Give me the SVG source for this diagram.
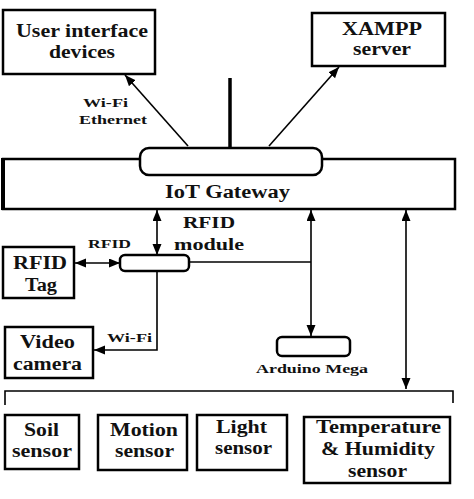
<svg xmlns="http://www.w3.org/2000/svg" width="474" height="499" viewBox="0 0 474 499">
<defs>
<style>
.box{fill:#fff;stroke:#000;stroke-width:2.5}
.rr{fill:#fff;stroke:#000;stroke-width:2.5}
.ln{fill:none;stroke:#000;stroke-width:1.6}
.t{font-family:"Liberation Serif","Times New Roman",serif;font-weight:bold;fill:#111;text-anchor:start}
.b{font-size:18px}
.s{font-size:13px}
.m{font-size:16px}
</style>
<marker id="ah" markerUnits="userSpaceOnUse" markerWidth="12" markerHeight="10" refX="11" refY="4.5" orient="auto-start-reverse">
<path d="M0,0 L11,4.5 L0,9 z" fill="#000"/>
</marker>
</defs>
<rect width="474" height="499" fill="#fff"/>

<g id="connectors">
<line class="ln" x1="188" y1="146" x2="125" y2="75" marker-end="url(#ah)"/>
<line class="ln" x1="269" y1="146" x2="339" y2="67" marker-end="url(#ah)"/>
<line x1="230" y1="78" x2="230" y2="149" stroke="#000" stroke-width="3.5"/>
<line class="ln" x1="157" y1="210" x2="157" y2="255" marker-start="url(#ah)" marker-end="url(#ah)"/>
<line class="ln" x1="75" y1="263" x2="120" y2="263" marker-start="url(#ah)" marker-end="url(#ah)"/>
<polyline class="ln" points="157,271 157,350 94,350" marker-end="url(#ah)"/>
<line class="ln" x1="189" y1="262" x2="311" y2="262"/>
<line class="ln" x1="311" y1="210" x2="311" y2="336" marker-start="url(#ah)" marker-end="url(#ah)"/>
<line class="ln" x1="406" y1="210" x2="406" y2="389" marker-start="url(#ah)" marker-end="url(#ah)"/>
<polyline class="ln" points="5,405 5,391 453,391 453,403" stroke-width="2"/>
</g>

<g id="user-interface">
<rect class="box" x="3" y="10" width="152" height="64"/>
<text class="t b" x="16" y="37" textLength="132" lengthAdjust="spacingAndGlyphs">User interface</text>
<text class="t b" x="49" y="58" textLength="66" lengthAdjust="spacingAndGlyphs">devices</text>
</g>

<g id="xampp">
<rect class="box" x="312" y="13" width="133" height="53"/>
<text class="t b" x="342" y="35" textLength="80" lengthAdjust="spacingAndGlyphs">XAMPP</text>
<text class="t b" x="353" y="55" textLength="58" lengthAdjust="spacingAndGlyphs">server</text>
</g>

<g id="label-wifi-ethernet">
<text class="t s" x="83" y="107" textLength="45" lengthAdjust="spacingAndGlyphs">Wi-Fi</text>
<text class="t s" x="79" y="124" textLength="68" lengthAdjust="spacingAndGlyphs">Ethernet</text>
</g>

<g id="iot-gateway">
<rect class="box" x="3" y="159" width="452" height="50"/>
<line x1="3" y1="158" x2="3" y2="210" stroke="#000" stroke-width="4"/>
<rect class="rr" x="140" y="148" width="182" height="27" rx="9"/>
<text class="t b" x="165" y="198" textLength="125" lengthAdjust="spacingAndGlyphs">IoT Gateway</text>
</g>

<g id="rfid-module">
<rect class="rr" x="120" y="255" width="69" height="16" rx="5"/>
<text class="t m" x="183" y="228" textLength="52" lengthAdjust="spacingAndGlyphs">RFID</text>
<text class="t m" x="174" y="250" textLength="70" lengthAdjust="spacingAndGlyphs">module</text>
</g>

<g id="label-rfid">
<text class="t s" x="88" y="248" textLength="43" lengthAdjust="spacingAndGlyphs">RFID</text>
</g>

<g id="rfid-tag">
<rect class="box" x="3" y="247" width="71" height="51"/>
<text class="t b" x="13" y="269" textLength="54" lengthAdjust="spacingAndGlyphs">RFID</text>
<text class="t b" x="25" y="291" textLength="32" lengthAdjust="spacingAndGlyphs">Tag</text>
</g>

<g id="label-wifi">
<text class="t s" x="107" y="342" textLength="45" lengthAdjust="spacingAndGlyphs">Wi-Fi</text>
</g>

<g id="video-camera">
<rect class="box" x="5" y="327" width="88" height="51"/>
<text class="t b" x="20" y="348" textLength="55" lengthAdjust="spacingAndGlyphs">Video</text>
<text class="t b" x="13" y="370" textLength="69" lengthAdjust="spacingAndGlyphs">camera</text>
</g>

<g id="arduino-mega">
<rect class="rr" x="277" y="337" width="73" height="19" rx="5"/>
<text class="t s" x="256" y="373" textLength="112" lengthAdjust="spacingAndGlyphs">Arduino Mega</text>
</g>

<g id="soil-sensor">
<rect class="box" x="5" y="415" width="74" height="54"/>
<text class="t b" x="24" y="436" textLength="35" lengthAdjust="spacingAndGlyphs">Soil</text>
<text class="t b" x="12" y="457" textLength="60" lengthAdjust="spacingAndGlyphs">sensor</text>
</g>

<g id="motion-sensor">
<rect class="box" x="98" y="415" width="89" height="55"/>
<text class="t b" x="110" y="436" textLength="68" lengthAdjust="spacingAndGlyphs">Motion</text>
<text class="t b" x="115" y="457" textLength="59" lengthAdjust="spacingAndGlyphs">sensor</text>
</g>

<g id="light-sensor">
<rect class="box" x="197" y="415" width="90" height="55"/>
<text class="t b" x="216" y="433" textLength="51" lengthAdjust="spacingAndGlyphs">Light</text>
<text class="t b" x="215" y="454" textLength="57" lengthAdjust="spacingAndGlyphs">sensor</text>
</g>

<g id="temp-humidity-sensor">
<rect class="box" x="304" y="417" width="146" height="66"/>
<text class="t b" x="316" y="433" textLength="125" lengthAdjust="spacingAndGlyphs">Temperature</text>
<text class="t b" x="321" y="455" textLength="114" lengthAdjust="spacingAndGlyphs">&amp; Humidity</text>
<text class="t b" x="348" y="477" textLength="59" lengthAdjust="spacingAndGlyphs">sensor</text>
</g>
</svg>
